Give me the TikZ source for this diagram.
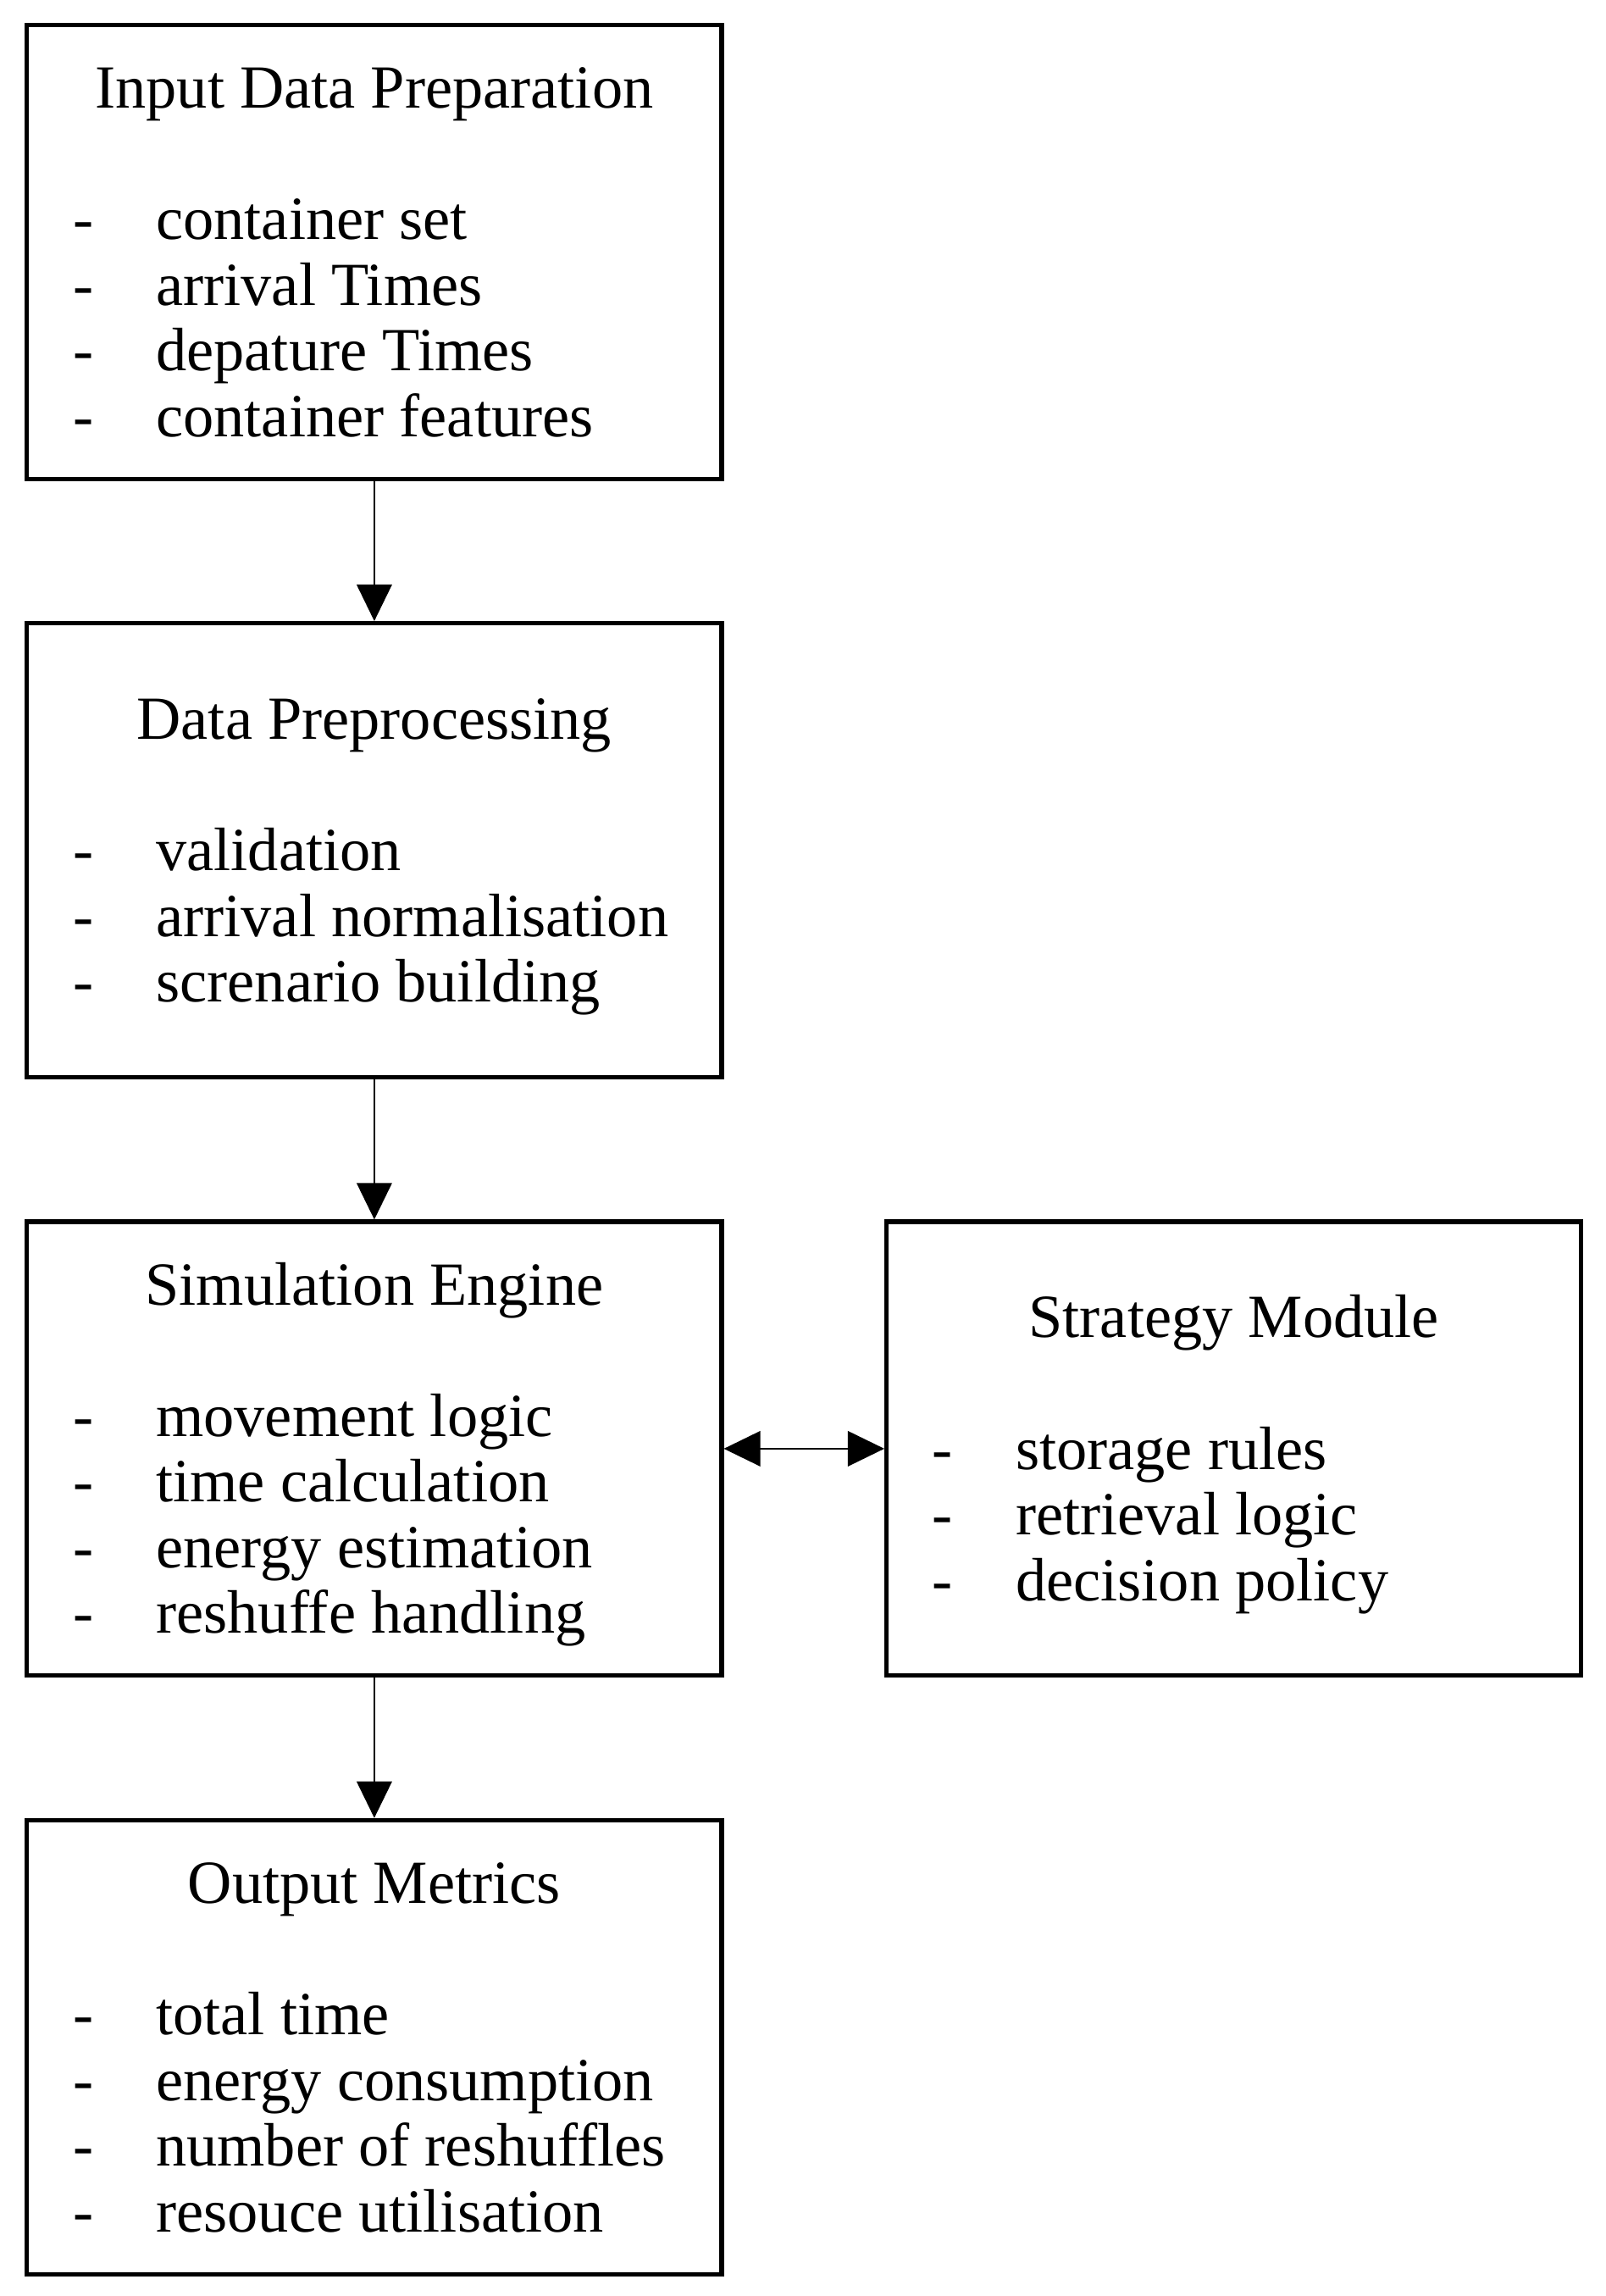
\documentclass[tikz,border=0pt]{standalone}
\usepackage{fontspec}
\setmainfont{Liberation Serif}
\usetikzlibrary{arrows.meta,positioning}
\newcommand{\blocktext}[2]{\begin{tabular}{@{}p{57pt}@{}p{356pt}@{}}\multicolumn{2}{@{}c@{}}{\rule{0pt}{41.5pt}#1}\\[45pt]#2\end{tabular}}
\begin{document}
\begin{tikzpicture}[x=1pt,y=1pt,
    block/.style={draw,line width=3pt,minimum width=476pt,minimum height=311pt,
      inner sep=0pt,font=\fontsize{42}{45}\selectfont},
    link/.style={line width=1.5pt,-{Triangle[length=25pt,width=24pt]}},
    twoway/.style={line width=1.5pt,{Triangle[length=25pt,width=24pt]}-{Triangle[length=25pt,width=24pt]}}]
  \useasboundingbox (0,0) rectangle (1100,-1573);
  \node[block] (input) at (256.5,-172.5)
    {\blocktext{Input Data Preparation}{- & container set\\ - & arrival Times\\ - & depature Times\\ - & container features}};
  \node[block,below=96pt of input] (prep)
    {\blocktext{Data Preprocessing}{- & validation\\ - & arrival normalisation\\ - & screnario building}};
  \node[block,below=96pt of prep] (sim)
    {\blocktext{Simulation Engine}{- & movement logic\\ - & time calculation\\ - & energy estimation\\ - & reshuffe handling}};
  \node[block,right=110pt of sim] (strat)
    {\blocktext{Strategy Module}{- & storage rules\\ - & retrieval logic\\ - & decision policy}};
  \node[block,below=96pt of sim] (out)
    {\blocktext{Output Metrics}{- & total time\\ - & energy consumption\\ - & number of reshuffles\\ - & resouce utilisation}};
  \draw[link] (input) -- (prep);
  \draw[link] (prep) -- (sim);
  \draw[link] (sim) -- (out);
  \draw[twoway] (sim) -- (strat);
\end{tikzpicture}
\end{document}
